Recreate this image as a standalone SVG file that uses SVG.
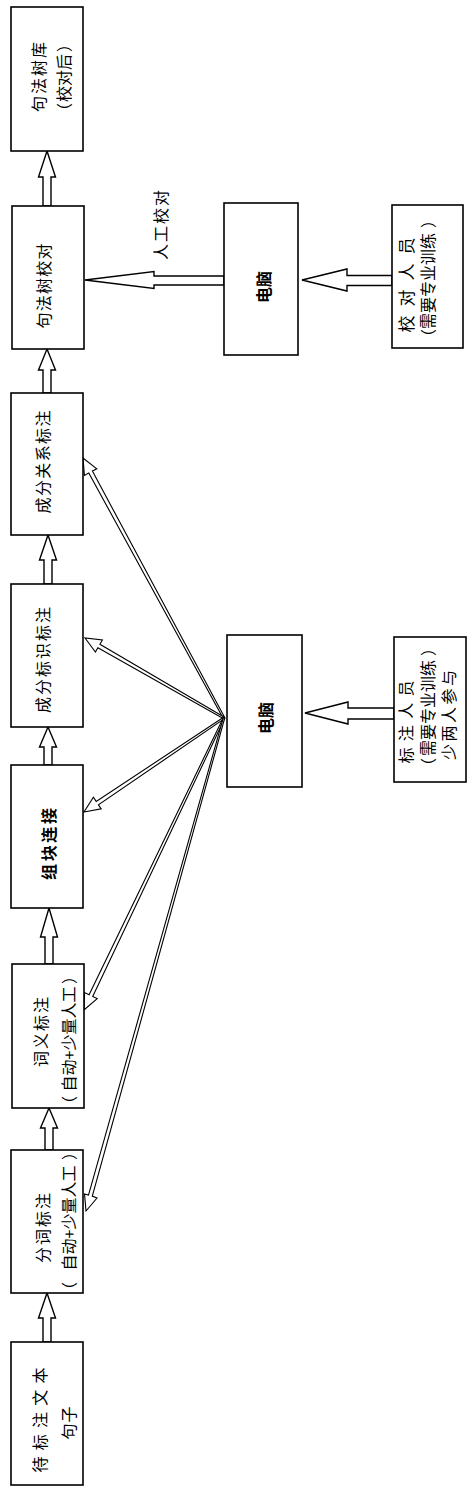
<svg xmlns="http://www.w3.org/2000/svg" width="474" height="1495" viewBox="0 0 474 1495">
<style>
.box{fill:#fff;stroke:#000;stroke-width:1.6}
.arr{fill:#fff;stroke:#000;stroke-width:1.4;stroke-linejoin:miter}
.fan{fill:#fff;stroke:#000;stroke-width:1.1;stroke-linejoin:miter}
text{font-family:"Noto Sans CJK SC","Noto Sans",sans-serif;font-size:16px;fill:#000;text-anchor:middle;dominant-baseline:central}
.b{font-weight:bold}
</style>
<rect width="474" height="1495" fill="#fff"/>
<g id="connectors">
<polygon class="arr" points="47,151 55.5,177 51,177 51,206 43,206 43,177 38.5,177"/>
<polygon class="arr" points="47,349 55.5,370 51,370 51,393 43,393 43,370 38.5,370"/>
<polygon class="arr" points="48,535 56.5,560 52,560 52,584 44,584 44,560 39.5,560"/>
<polygon class="arr" points="48,727 56.5,747 52,747 52,765 44,765 44,747 39.5,747"/>
<polygon class="arr" points="49,908 57.5,937 53,937 53,964 45,964 45,937 40.5,937"/>
<polygon class="arr" points="49,1108 57.5,1128 53,1128 53,1150 45,1150 45,1128 40.5,1128"/>
<polygon class="arr" points="47,1293 55.5,1318 51,1318 51,1342 43,1342 43,1318 38.5,1318"/>
<polygon class="arr" points="85,280 154,271.5 154,276 224,276 224,285 154,285 154,288.5"/>
<polygon class="arr" points="302,280 347,269 347,275.5 392,275.5 392,285.5 347,285.5 347,291"/>
<polygon class="arr" points="305,713 348,702 348,708 394,708 394,719 348,719 348,724"/>
<polygon class="fan" points="224.7,717.6 92.4,471.1 96.8,468.8 83,458 84.4,475.4 88.8,473.1 223.3,718.4"/>
<polygon class="fan" points="224.4,717.3 99.9,644.3 102.4,639.9 85,638 95.4,652.1 97.9,647.7 223.6,718.7"/>
<polygon class="fan" points="223.6,717.3 96.2,801.4 93.4,797.3 84,812 101.2,808.9 98.4,804.8 224.4,718.7"/>
<polygon class="fan" points="223.3,717.7 89.1,994.7 84.6,992.6 84,1010 97.2,998.6 92.7,996.5 224.7,718.3"/>
<polygon class="fan" points="223.3,717.8 88.5,1195.1 84.5,1193.9 86,1211 97,1198 92.3,1196.1 224.7,718.2"/>
</g>
<g id="n_tree_bank">
<rect class="box" x="11" y="7" width="72" height="144"/>
<text transform="rotate(-90 38 77)" x="38" y="77" textLength="70">句法树库</text>
<text transform="rotate(-90 63 78)" y="78"><tspan x="30">（</tspan><tspan x="63">校对后</tspan><tspan x="97">）</tspan></text>
</g>
<g id="n_tree_check">
<rect class="box" x="12" y="206" width="72" height="143"/>
<text transform="rotate(-90 43 286)" x="43" y="286" textLength="85">句法树校对</text>
</g>
<g id="label_manual">
<text transform="rotate(-90 160 225)" x="160" y="225" textLength="70">人工校对</text>
</g>
<g id="n_pc_top">
<rect class="box" x="224" y="203" width="74" height="152"/>
<text class="b" transform="rotate(-90 263 287)" x="263" y="287">电脑</text>
</g>
<g id="n_checker">
<rect class="box" x="392" y="205" width="71" height="143"/>
<text transform="rotate(-90 405 285)" x="405" y="285" textLength="95" style="font-size:17px">校对人员</text>
<text transform="rotate(-90 427 277)" y="277"><tspan x="367">（</tspan><tspan x="423">需要专业训练</tspan><tspan x="484">）</tspan></text>
</g>
<g id="n_relation">
<rect class="box" x="11" y="393" width="72" height="142"/>
<text transform="rotate(-90 42 462)" x="42" y="462" textLength="103">成分关系标注</text>
</g>
<g id="n_constituent">
<rect class="box" x="11" y="584" width="72" height="143"/>
<text transform="rotate(-90 42 660)" x="42" y="660" textLength="106">成分标识标注</text>
</g>
<g id="n_pc_mid">
<rect class="box" x="227" y="635" width="75" height="152"/>
<text class="b" transform="rotate(-90 265 718)" x="265" y="718">电脑</text>
</g>
<g id="n_annotator">
<rect class="box" x="394" y="637" width="72" height="145"/>
<text transform="rotate(-90 405 722)" x="405" y="722" textLength="83">标注人员</text>
<text transform="rotate(-90 427 710)" y="710"><tspan x="371">（</tspan><tspan x="429">需要专业训练</tspan><tspan x="489">）</tspan></text>
<text transform="rotate(-90 448 715)" x="448" y="715" textLength="90">少两人参与</text>
</g>
<g id="n_chunk">
<rect class="box" x="11" y="765" width="72" height="143"/>
<text class="b" transform="rotate(-90 48 844)" x="48" y="844" textLength="72">组块连接</text>
</g>
<g id="n_sense">
<rect class="box" x="12" y="964" width="72" height="144"/>
<text transform="rotate(-90 40 1032)" x="40" y="1032" textLength="70">词义标注</text>
<text transform="rotate(-90 68 1040)" y="1040"><tspan x="4">（</tspan><tspan x="69">自动+少量人工</tspan><tspan x="132">）</tspan></text>
</g>
<g id="n_segment">
<rect class="box" x="11" y="1150" width="72" height="143"/>
<text transform="rotate(-90 42 1228)" x="42" y="1228" textLength="70">分词标注</text>
<text transform="rotate(-90 68 1221)" y="1221"><tspan x="-1">（</tspan><tspan x="71">自动+少量人工</tspan><tspan x="137">）</tspan></text>
</g>
<g id="n_input">
<rect class="box" x="11" y="1342" width="72" height="143"/>
<text transform="rotate(-90 39 1420)" x="39" y="1420" textLength="105">待标注文本</text>
<text transform="rotate(-90 68 1423)" x="68" y="1423" textLength="33">句子</text>
</g>
</svg>
